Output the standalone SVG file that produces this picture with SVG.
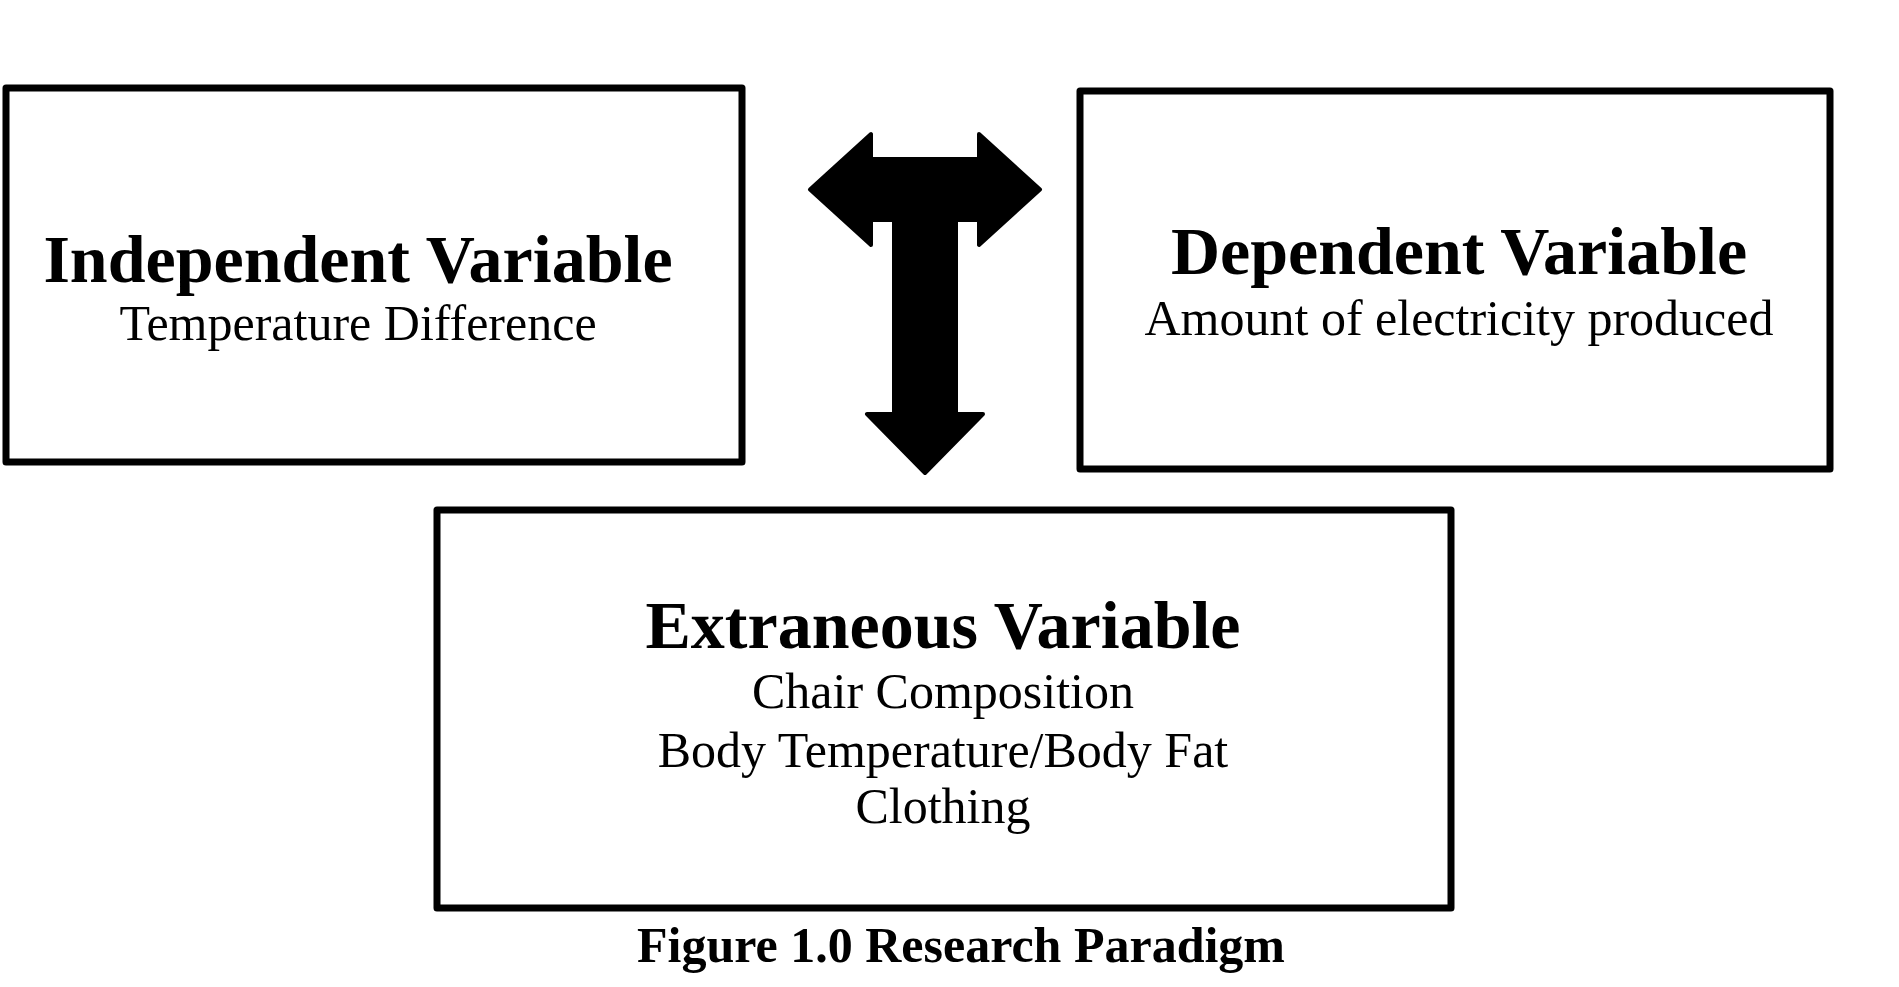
<svg xmlns="http://www.w3.org/2000/svg" width="1899" height="987" viewBox="0 0 1899 987">
<style>
.box{fill:#fff;stroke:#000;stroke-width:7;stroke-linejoin:round}
.t{font-family:"Liberation Serif","Times New Roman",serif;fill:#000;text-anchor:middle}
.h{font-size:68px;font-weight:bold}
.s{font-size:50px}
.cap{font-size:50px;font-weight:bold}
.arrow{fill:#000;stroke:#000;stroke-width:4;stroke-linejoin:round}
</style>
<rect width="1899" height="987" fill="#fff"/>
<g id="independent">
<rect class="box" x="6" y="88" width="736" height="374"/>
<text class="t h" x="358" y="282">Independent Variable</text>
<text class="t s" x="358" y="340">Temperature Difference</text>
</g>
<g id="dependent">
<rect class="box" x="1080" y="91" width="750" height="378"/>
<text class="t h" x="1459" y="274">Dependent Variable</text>
<text class="t s" x="1459" y="335">Amount of electricity produced</text>
</g>
<g id="extraneous">
<rect class="box" x="437" y="510" width="1014" height="398"/>
<text class="t h" x="943" y="648">Extraneous Variable</text>
<text class="t s" x="943" y="708">Chair Composition</text>
<text class="t s" x="943" y="767">Body Temperature/Body Fat</text>
<text class="t s" x="943" y="823">Clothing</text>
</g>
<g id="connectors">
<path class="arrow" d="M810,189.5 L871,134 L871,159 L979,159 L979,134 L1040,189.5 L979,245 L979,220 L956,220 L956,414 L983,414 L925,473 L867,414 L894,414 L894,220 L871,220 L871,245 Z"/>
</g>
<g id="caption">
<text class="t cap" x="961" y="962">Figure 1.0 Research Paradigm</text>
</g>
</svg>
